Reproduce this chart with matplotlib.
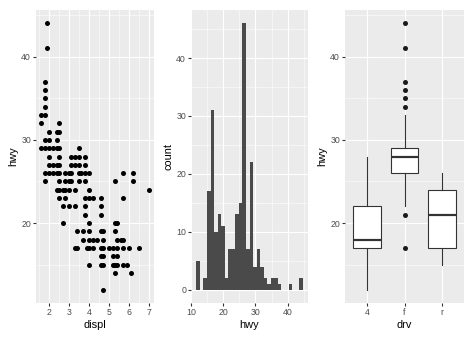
import numpy as np
import matplotlib
matplotlib.use("Agg")
import matplotlib.pyplot as plt
from matplotlib.ticker import FixedLocator

plt.rcParams['font.family'] = ['Liberation Sans', 'DejaVu Sans']

# ---- scatter: engine displacement vs highway mileage (distinct pairs) ----
displ_pts = [
    1.6, 1.6, 1.6,
    1.8, 1.8, 1.8, 1.8, 1.8, 1.8, 1.8, 1.8, 1.8,
    1.9, 1.9,
    2.0, 2.0, 2.0, 2.0, 2.0, 2.0,
    2.2, 2.2, 2.2,
    2.4, 2.4, 2.4, 2.4, 2.4, 2.4,
    2.5, 2.5, 2.5, 2.5, 2.5, 2.5, 2.5, 2.5, 2.5,
    2.7, 2.7, 2.7,
    2.8, 2.8, 2.8, 2.8,
    3.0, 3.0, 3.0, 3.0,
    3.1, 3.1, 3.1, 3.1,
    3.3, 3.3, 3.3, 3.3, 3.3,
    3.4, 3.4,
    3.5, 3.5, 3.5, 3.5, 3.5,
    3.6,
    3.7, 3.7,
    3.8, 3.8, 3.8, 3.8, 3.8, 3.8, 3.8,
    3.9,
    4.0, 4.0, 4.0, 4.0, 4.0, 4.0, 4.0, 4.0,
    4.2, 4.2, 4.2,
    4.4,
    4.6, 4.6, 4.6, 4.6, 4.6, 4.6, 4.6,
    4.7, 4.7, 4.7, 4.7, 4.7, 4.7,
    5.0,
    5.2, 5.2, 5.2,
    5.3, 5.3, 5.3, 5.3, 5.3,
    5.4, 5.4, 5.4, 5.4, 5.4,
    5.6,
    5.7, 5.7, 5.7, 5.7, 5.7,
    5.9,
    6.0,
    6.1,
    6.2, 6.2,
    6.5,
    7.0,
]
hwy_pts = [
    29, 32, 33,
    25, 26, 29, 30, 33, 34, 35, 36, 37,
    41, 44,
    26, 27, 28, 29, 30, 31,
    26, 27, 29,
    24, 26, 27, 29, 30, 31,
    23, 24, 25, 26, 27, 28, 29, 31, 32,
    20, 22, 24,
    23, 24, 25, 26,
    22, 24, 25, 26,
    25, 26, 27, 28,
    17, 22, 24, 27, 28,
    17, 19,
    25, 26, 27, 28, 29,
    26,
    18, 19,
    21, 22, 23, 25, 26, 27, 28,
    17,
    15, 17, 18, 19, 20, 23, 24, 26,
    17, 18, 23,
    18,
    15, 16, 17, 19, 21, 22, 23,
    12, 15, 16, 17, 18, 19,
    17,
    15, 16, 17,
    14, 15, 19, 20, 25,
    15, 16, 17, 18, 20,
    18,
    15, 17, 18, 23, 26,
    15,
    17,
    14,
    25, 26,
    17,
    24,
]

# ---- histogram of highway mileage: 30 bins over the range 12..44 ----
hwy_range = (12, 44)
hist_counts = [5, 0, 2, 17, 31, 10, 13, 11, 2, 7, 7, 13, 15, 46, 7,
               22, 4, 7, 4, 2, 1, 2, 2, 1, 0, 0, 1, 0, 0, 2]

# ---- boxplot of highway mileage by drive train ----
drv_labels = ['4', 'f', 'r']
box_whislo = [12, 22, 15]
box_q1 = [17, 26, 17]
box_med = [18, 28, 21]
box_q3 = [22, 29, 24]
box_whishi = [28, 33, 26]
box_fliers = [[], [17, 21, 34, 35, 36, 37, 41, 44], []]

# ---------------------------------------------------------------------------
W, H, DPI = 474, 338, 72
fig = plt.figure(figsize=(W / DPI, H / DPI), dpi=DPI)
fig.patch.set_facecolor('white')

PANEL_BG = '#EBEBEB'
INK = '#333333'
TICK_TXT = '#4D4D4D'
BAR_FILL = '#4A4A4A'
LW = 1.1


def add_panel(left, right, top=10, bottom=303):
    return fig.add_axes([left / W, 1 - bottom / H, (right - left) / W, (bottom - top) / H])


def expand(lo, hi, mult=0.05):
    pad = (hi - lo) * mult
    return lo - pad, hi + pad


def style(ax, xmajor, ymajor, xminor, yminor):
    ax.set_facecolor(PANEL_BG)
    for s in ax.spines.values():
        s.set_visible(False)
    ax.set_xticks(xmajor)
    ax.set_yticks(ymajor)
    ax.xaxis.set_minor_locator(FixedLocator(xminor))
    ax.yaxis.set_minor_locator(FixedLocator(yminor))
    ax.grid(which='major', color='white', linewidth=LW)
    ax.grid(which='minor', color='white', linewidth=LW / 2)
    ax.set_axisbelow(True)
    ax.tick_params(which='major', length=2.75, width=LW, color=INK,
                   labelcolor=TICK_TXT, labelsize=8.8, pad=2.2)
    ax.tick_params(which='minor', length=0)


# panel 1: scatter
ax1 = add_panel(36, 154)
ax1.scatter(displ_pts, hwy_pts, s=5.0 ** 2, c='black', linewidths=0, zorder=3)
ax1.set_xlim(*expand(min(displ_pts), max(displ_pts)))
ax1.set_ylim(*expand(min(hwy_pts), max(hwy_pts)))
style(ax1, [2, 3, 4, 5, 6, 7], [20, 30, 40],
      [1.5, 2.5, 3.5, 4.5, 5.5, 6.5], [15, 25, 35, 45])
ax1.set_xlabel('displ', fontsize=11, labelpad=2.75)
ax1.set_ylabel('hwy', fontsize=11, labelpad=2.75)

# panel 2: histogram (bins aligned on half-width boundaries)
nbins = len(hist_counts)
bw = (hwy_range[1] - hwy_range[0]) / (nbins - 1)
origin = bw / 2 + np.floor((hwy_range[0] - bw / 2) / bw) * bw
edges = origin + bw * np.arange(nbins + 1)
ax2 = add_panel(191, 308)
ax2.bar(edges[:-1], hist_counts, width=bw, align='edge', color=BAR_FILL,
        linewidth=0, zorder=3)
ax2.set_xlim(*expand(edges[0], edges[-1]))
ax2.set_ylim(*expand(0, max(hist_counts)))
style(ax2, [10, 20, 30, 40], [0, 10, 20, 30, 40],
      [15, 25, 35, 45], [5, 15, 25, 35, 45])
ax2.set_xlabel('hwy', fontsize=11, labelpad=2.75)
ax2.set_ylabel('count', fontsize=11, labelpad=2.75)

# panel 3: boxplot
ax3 = add_panel(345, 464)
stats = []
for i, lab in enumerate(drv_labels):
    stats.append(dict(label=lab, whislo=box_whislo[i], q1=box_q1[i],
                      med=box_med[i], q3=box_q3[i], whishi=box_whishi[i],
                      fliers=box_fliers[i]))
positions = np.arange(1, len(drv_labels) + 1)
ax3.bxp(stats, positions=positions, widths=0.75, patch_artist=True,
        showcaps=False,
        boxprops=dict(facecolor='white', edgecolor=INK, linewidth=LW),
        whiskerprops=dict(color=INK, linewidth=LW),
        medianprops=dict(color=INK, linewidth=LW * 2, solid_capstyle='butt'),
        flierprops=dict(marker='o', markerfacecolor='#1A1A1A', markeredgecolor='none',
                        markersize=5.0),
        zorder=3)
ax3.set_xlim(0.4, len(drv_labels) + 0.6)
all_hwy_box = box_whislo + box_whishi + [v for f in box_fliers for v in f]
ax3.set_ylim(*expand(min(all_hwy_box), max(all_hwy_box)))
style(ax3, positions, [20, 30, 40], [], [15, 25, 35, 45])
ax3.set_xticklabels(drv_labels)
ax3.set_xlabel('drv', fontsize=11, labelpad=2.75)
ax3.set_ylabel('hwy', fontsize=11, labelpad=2.75)

fig.savefig('out.png', dpi=DPI, facecolor='white')
